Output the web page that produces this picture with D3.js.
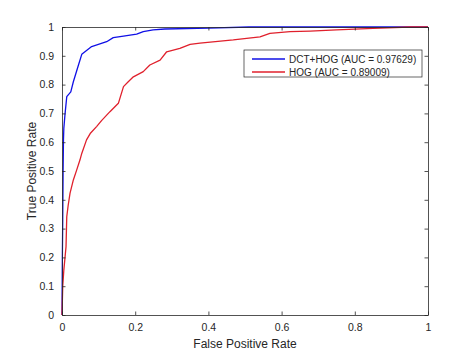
<!DOCTYPE html>
<html><head><meta charset="utf-8">
<script src="https://cdn.jsdelivr.net/npm/d3@7"></script>
<style>body{margin:0;background:#fff;}svg{display:block;font-family:"Liberation Sans",Arial,sans-serif;}</style>
</head><body>
<svg id="c" width="474" height="355"></svg>
<script>
const xTicks = [0,0.2,0.4,0.6,0.8,1];
const yTicks = [0,0.1,0.2,0.3,0.4,0.5,0.6,0.7,0.8,0.9,1];
const seriesNames = ["DCT+HOG (AUC = 0.97629)","HOG (AUC = 0.89009)"];
const dctFpr = [0,0.001,0.002,0.003,0.004,0.005,0.008,0.013,0.024,0.031,0.045,0.054,0.081,0.122,0.140,0.168,0.204,0.222,0.249,0.281,0.40,0.51,1];
const dctTpr = [0,0.20,0.33,0.50,0.608,0.648,0.694,0.758,0.775,0.810,0.868,0.905,0.932,0.949,0.963,0.968,0.975,0.984,0.990,0.993,0.996,1,1];
const hogFpr = [0,0.002,0.005,0.011,0.013,0.017,0.022,0.031,0.040,0.049,0.054,0.067,0.077,0.095,0.108,0.131,0.154,0.168,0.181,0.195,0.222,0.240,0.268,0.286,0.322,0.350,0.377,0.468,0.541,0.568,0.623,0.678,0.75,0.85,0.95,1];
const hogTpr = [0,0.10,0.156,0.237,0.341,0.382,0.423,0.469,0.503,0.538,0.561,0.608,0.630,0.655,0.675,0.706,0.735,0.793,0.810,0.827,0.845,0.868,0.885,0.914,0.926,0.940,0.944,0.955,0.966,0.978,0.984,0.986,0.990,0.995,1,1];
const colors = ["#1010e6","#e0202c"];

const svg = d3.select("#c");
const x = d3.scaleLinear().domain([0,1]).range([62,428]);
const y = d3.scaleLinear().domain([0,1]).range([315,27]);
const axCol = "#262626";

const series = [
  dctFpr.map((v,i)=>[v,dctTpr[i]]),
  hogFpr.map((v,i)=>[v,hogTpr[i]])
];

svg.append("rect").attr("x",62).attr("y",27).attr("width",366).attr("height",288)
  .attr("fill","#fff").attr("stroke","none");

const line = d3.line().x(d=>x(d[0])).y(d=>y(d[1]));
series.forEach((s,i)=>{
  svg.append("path").datum(s).attr("d",line).attr("fill","none")
    .attr("stroke",colors[i]).attr("stroke-width",1.3).attr("stroke-linejoin","round");
});

const fmt = d=> String(d);
const gx = svg.append("g").attr("transform","translate(0,315)")
  .call(d3.axisBottom(x).tickValues(xTicks).tickFormat(fmt).tickSizeInner(-3.5).tickSizeOuter(0).tickPadding(8.5));
const gxt = svg.append("g").attr("transform","translate(0,27)")
  .call(d3.axisTop(x).tickValues(xTicks).tickFormat("").tickSizeInner(-3.5).tickSizeOuter(0));
const gy = svg.append("g").attr("transform","translate(62,0)")
  .call(d3.axisLeft(y).tickValues(yTicks).tickFormat(fmt).tickSizeInner(-3.5).tickSizeOuter(0).tickPadding(8));
const gyr = svg.append("g").attr("transform","translate(428,0)")
  .call(d3.axisRight(y).tickValues(yTicks).tickFormat("").tickSizeInner(-3.5).tickSizeOuter(0));
[gx,gxt,gy,gyr].forEach(g=>{
  g.selectAll("path").attr("stroke",axCol).attr("stroke-width",0.8);
  g.selectAll("line").attr("stroke",axCol).attr("stroke-width",0.8);
  g.selectAll("text").attr("fill",axCol).style("font-size","10.5px").style("font-family","Liberation Sans, Arial, sans-serif");
});

svg.append("text").attr("x",245).attr("y",348).attr("text-anchor","middle")
  .attr("fill",axCol).style("font-size","12px").text("False Positive Rate");
svg.append("text").attr("transform","translate(36,171) rotate(-90)").attr("text-anchor","middle")
  .attr("fill",axCol).style("font-size","12px").text("True Positive Rate");

const lg = svg.append("g");
lg.append("rect").attr("x",244).attr("y",50).attr("width",178).attr("height",27)
  .attr("fill","#fff").attr("stroke","#262626").attr("stroke-width",0.7);
seriesNames.forEach((n,i)=>{
  const yy = 59 + i*13;
  lg.append("line").attr("x1",252).attr("x2",285).attr("y1",yy).attr("y2",yy)
    .attr("stroke",colors[i]).attr("stroke-width",1.3);
  lg.append("text").attr("x",289).attr("y",yy+3.6).attr("fill",axCol)
    .style("font-size","10px").text(n);
});
</script>
</body></html>
